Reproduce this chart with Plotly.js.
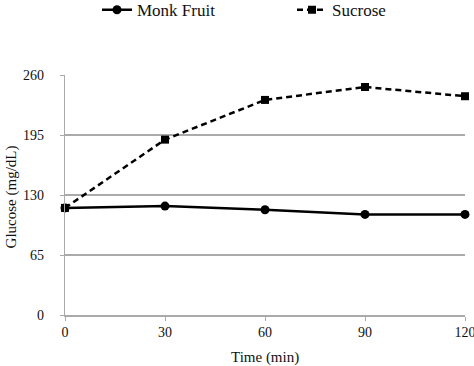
<!DOCTYPE html>
<html><head><meta charset="utf-8">
<script src="https://cdn.plot.ly/plotly-3.0.1.min.js"></script>
<style>html,body{margin:0;padding:0;background:#fff;}#chart{width:474px;height:366px;}
#chart svg text{font-family:"Liberation Serif","Times New Roman",serif !important;}</style>
</head><body><div id="chart"></div>
<script>
const times = [0, 30, 60, 90, 120];
const monkFruit = [116, 118, 114, 109, 109];
const sucrose = [116, 190, 233, 247, 237];
const yTicks = [0, 65, 130, 195, 260];
const xTitle = 'Time (min)';
const yTitle = 'Glucose (mg/dL)';

const FAM = 'Liberation Serif';
const font = {family: FAM, color: '#111', size: 14};

const traces = [
  {x: times, y: monkFruit, name: 'Monk Fruit', mode: 'lines+markers', type: 'scatter', cliponaxis: false,
   line: {color: '#000', width: 2.5}, marker: {symbol: 'circle', size: 9, color: '#000'}},
  {x: times, y: sucrose, name: 'Sucrose', mode: 'lines+markers', type: 'scatter', cliponaxis: false,
   line: {color: '#000', width: 2.5, dash: '6px,4px'}, marker: {symbol: 'square', size: 8, color: '#000'}}
];

const yLabelAnnotations = yTicks.map(v => ({
  text: String(v), xref: 'paper', yref: 'y', x: -0.0475, y: v, xanchor: 'right', yanchor: 'middle',
  showarrow: false, font: {family: FAM, size: 14, color: '#111'}
}));

const layout = {
  width: 474, height: 366,
  margin: {l: 65, r: 9, t: 75, b: 51, autoexpand: false},
  paper_bgcolor: '#fff', plot_bgcolor: '#fff',
  font: font,
  showlegend: true,
  legend: {orientation: 'h', x: 0.5675, xanchor: 'center', y: 1.345, yanchor: 'top',
           font: {family: FAM, size: 17, color: '#111'}, entrywidth: 150, itemwidth: 30},
  xaxis: {range: [0, 120], tickvals: times, ticktext: times.map(String), showgrid: false,
          zeroline: false, showline: true, linecolor: '#aaa', linewidth: 1.5, automargin: false,
          ticklabeloverflow: 'allow',
          ticks: 'outside', ticklen: 4, tickcolor: '#aaa', tickfont: {family: FAM, size: 14, color: '#111'}},
  yaxis: {range: [0, 260], tickvals: yTicks, showticklabels: false, showgrid: true, automargin: false,
          gridcolor: '#aaa', gridwidth: 1.5, zeroline: false, showline: true, linecolor: '#aaa', linewidth: 1.5,
          ticks: 'outside', ticklen: 4, tickcolor: '#aaa'},
  annotations: [
    {text: xTitle, xref: 'paper', yref: 'paper', x: 0.5, y: -0.178, xanchor: 'center', yanchor: 'middle',
     showarrow: false, font: {family: FAM, size: 15, color: '#111'}},
    {text: yTitle, xref: 'paper', yref: 'paper', x: -0.135, y: 0.49, xanchor: 'center', yanchor: 'middle',
     textangle: -90, showarrow: false, font: {family: FAM, size: 15, color: '#111'}}
  ].concat(yLabelAnnotations)
};
Plotly.newPlot('chart', traces, layout, {displayModeBar: false, staticPlot: true});
</script></body></html>
